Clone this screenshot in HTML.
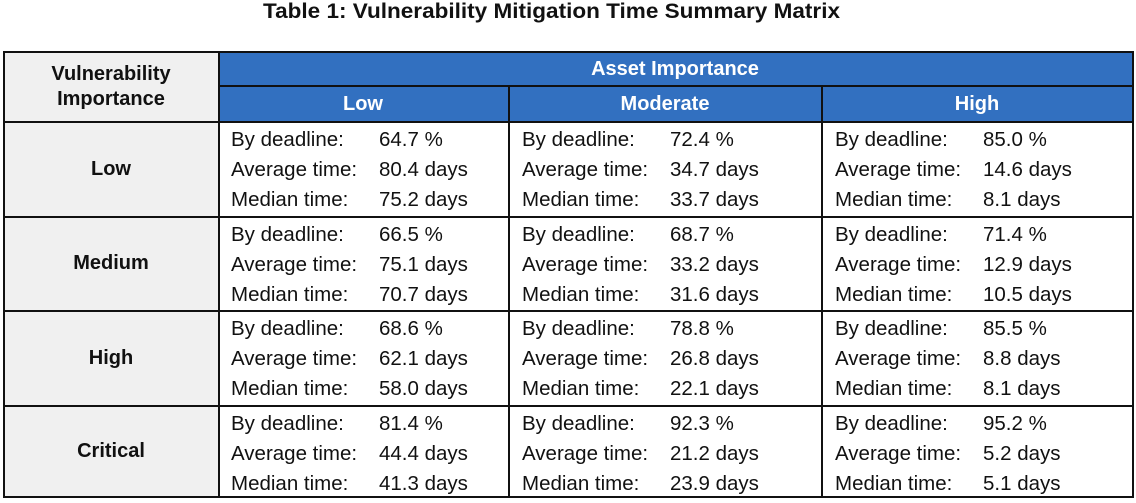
<!DOCTYPE html>
<html><head><meta charset="utf-8"><style>
body{margin:0;width:1136px;height:503px;background:#fff;position:relative;overflow:hidden;font-family:"Liberation Sans",Arial,sans-serif;color:#111}
.t{position:absolute;left:263px;top:0px;font-weight:bold;font-size:21px;line-height:24px;white-space:nowrap;transform-origin:0 0;transform:scaleX(0.98)}
.b{position:absolute;box-sizing:border-box}
.hd{background:#3270c0;color:#fff;font-weight:bold;font-size:20px;display:flex;align-items:center;justify-content:center}
.rh{background:#f0f0f0;font-weight:bold;font-size:20px;display:flex;align-items:center;justify-content:center;text-align:center;line-height:25px}
.ln{position:absolute;background:#111}
.tx{position:absolute;font-size:20.5px;white-space:nowrap;line-height:22px}
</style></head><body>
<div class="t" id="title">Table 1: Vulnerability Mitigation Time Summary Matrix</div>
<div class="b rh" style="left:4px;top:52px;width:214px;height:70px">Vulnerability<br>Importance</div>
<div class="b hd" style="left:218px;top:52px;width:914px;height:34px">Asset Importance</div>
<div class="b hd" style="left:218px;top:87px;width:290px;height:35px">Low</div>
<div class="b hd" style="left:509px;top:87px;width:312px;height:35px">Moderate</div>
<div class="b hd" style="left:822px;top:87px;width:310px;height:35px">High</div>
<script>
const rowNames=["Low","Medium","High","Critical"];
const byDeadline=[["64.7","72.4","85.0"],["66.5","68.7","71.4"],["68.6","78.8","85.5"],["81.4","92.3","95.2"]];
const avgTime=[["80.4","34.7","14.6"],["75.1","33.2","12.9"],["62.1","26.8","8.8"],["44.4","21.2","5.2"]];
const medTime=[["75.2","33.7","8.1"],["70.7","31.6","10.5"],["58.0","22.1","8.1"],["41.3","23.9","5.1"]];
const rowTops=[122,216.5,311,406,497];
const colL=[231,522,835];
function add(cls,name,style,html){const d=document.createElement('div');d.className=cls;


d.setAttribute('style',style);d.innerHTML=html;document.body.appendChild(d);}
rowNames.forEach((r,i)=>{
 const t=rowTops[i],h=rowTops[i+1]-t;
 add('b rh','row-'+r.toLowerCase(),`left:4px;top:${t}px;width:214px;height:${h}px`,r);
 for(let j=0;j<3;j++){
  const labels=["By deadline:","Average time:","Median time:"];
  const vals=[byDeadline[i][j]+" %",avgTime[i][j]+" days",medTime[i][j]+" days"];
  for(let k=0;k<3;k++){
   const y=t+7+k*30;
   add('tx','cell-label',`left:${colL[j]}px;top:${y}px`,labels[k]);
   add('tx','cell-value',`left:${colL[j]+148}px;top:${y}px`,vals[k]);
  }
 }
});
[52,86,122,216.5,311,406,497].forEach((y,i)=>{const x=i==1?218:3;
 add('ln','h-grid-line',`left:${x}px;top:${y-1}px;width:${1133-x}px;height:2px`,'');});
[[3,51],[218,51],[508,86],[821,86],[1132,51]].forEach(([x,y0])=>add('ln','v-grid-line',`left:${x}px;top:${y0}px;width:2px;height:${498-y0}px`,''));
const tt=document.getElementById('title');const w=tt.getBoundingClientRect().width/0.98;
tt.style.transform='scaleX('+(577/w)+')';
</script>
</body></html>
